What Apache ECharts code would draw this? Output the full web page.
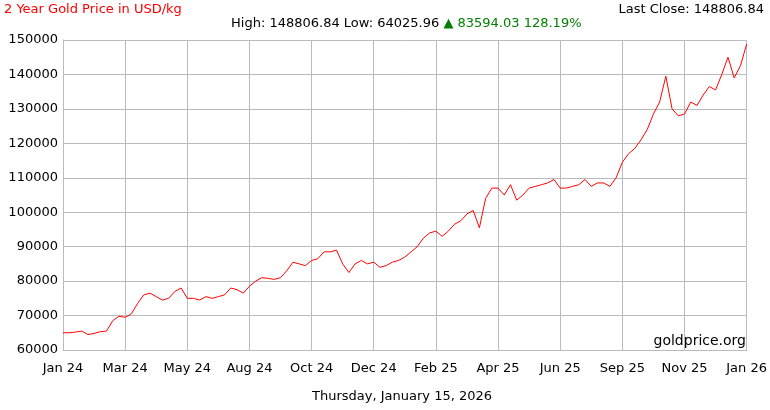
<!DOCTYPE html>
<html style="height: 100%">
<head>
    <meta charset="UTF-8">
    <script src="https://cdn.jsdelivr.net/npm/echarts@6/dist/echarts.min.js"></script>
</head>
<body style="height: 100%; margin: 0; background: #fff">
    <div id="container" style="width: 770px; height: 410px"></div>
    <script type="text/javascript">
        var prices = [65000, 65000, 65200, 65500, 64500, 64800, 65300, 65500, 68500, 69800,
            69500, 70500, 73500, 76000, 76500, 75500, 74500, 75000, 77000, 78000,
            75000, 75000, 74500, 75500, 75000, 75500, 76000, 78000, 77500, 76500,
            78500, 80000, 81000, 80800, 80500, 81000, 83000, 85500, 85000, 84500,
            86000, 86500, 88500, 88500, 89000, 85000, 82500, 85000, 86000, 85000,
            85500, 84000, 84500, 85500, 86000, 87000, 88500, 90000, 92500, 94000,
            94500, 93000, 94500, 96500, 97500, 99500, 100500, 95500, 104000, 107000,
            107000, 105000, 108000, 103500, 105000, 107000, 107500, 108000, 108500, 109500,
            107000, 107000, 107500, 108000, 109500, 107500, 108500, 108500, 107500, 110000,
            114500, 117000, 118500, 121000, 124000, 128500, 132000, 139500, 130000, 128000,
            128500, 132000, 131000, 134000, 136500, 135500, 140000, 145000, 139000, 142500,
            148800];
        var monthLabels = ['Jan 24', 'Mar 24', 'May 24', 'Aug 24', 'Oct 24', 'Dec 24',
            'Feb 25', 'Apr 25', 'Jun 25', 'Sep 25', 'Nov 25', 'Jan 26'];

        var categories = prices.map(function (v, i) { return i; });
        var font = 'DejaVu Sans';

        var myChart = echarts.init(document.getElementById('container'));
        var option = {
            animation: false,
            textStyle: { fontFamily: font },
            grid: { left: 63, right: 22, top: 40, bottom: 60 },
            graphic: [
                { type: 'text', left: 4, top: 3, style: { text: '2 Year Gold Price in USD/kg', fill: '#ff0000', font: '13px ' + font } },
                { type: 'text', right: 6, top: 3, style: { text: 'Last Close: 148806.84', fill: '#000', font: '13px ' + font } },
                { type: 'text', left: 231, top: 17, style: {
                    text: '{b|High: 148806.84 Low: 64025.96 }{g|▲ 83594.03 128.19%}',
                    rich: { b: { fill: '#000', font: '13px ' + font }, g: { fill: '#008000', font: '13px ' + font } }
                } },
                { type: 'text', right: 24, top: 334, style: { text: 'goldprice.org', fill: '#000', font: '14px ' + font } },
                { type: 'text', left: 312, top: 390, style: { text: 'Thursday, January 15, 2026', fill: '#000', font: '13px ' + font } }
            ],
            xAxis: {
                type: 'category',
                data: categories,
                boundaryGap: false,
                axisLine: { lineStyle: { color: '#bbb' } },
                axisTick: { show: false },
                axisLabel: {
                    interval: 9, color: '#000', fontSize: 13, margin: 12,
                    formatter: function (v) { return monthLabels[v / 10]; }
                },
                splitLine: { show: true, interval: 9, lineStyle: { color: '#bbb' } }
            },
            yAxis: {
                type: 'value',
                min: 60000, max: 150000, interval: 10000,
                axisLine: { show: true, lineStyle: { color: '#bbb' } },
                axisLabel: { color: '#000', fontSize: 13, margin: 5, formatter: function (v) { return String(v); } },
                splitLine: { lineStyle: { color: '#bbb' } }
            },
            series: [{
                type: 'line',
                data: prices,
                symbol: 'none',
                lineStyle: { color: '#ff0000', width: 1 }
            }]
        };
        myChart.setOption(option);
    </script>
</body>
</html>
